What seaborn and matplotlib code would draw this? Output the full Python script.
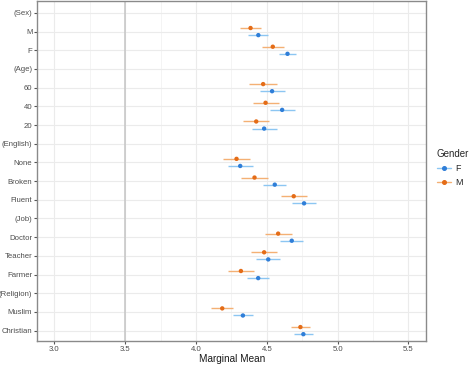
import matplotlib
matplotlib.use("Agg")
import matplotlib.pyplot as plt
from matplotlib.lines import Line2D
from matplotlib.ticker import MultipleLocator
import seaborn as sns
import numpy as np
import pandas as pd

categories = ["(Sex)", "M", "F", "(Age)", "60", "40", "20", "(English)", "None",
              "Broken", "Fluent", "(Job)", "Doctor", "Teacher", "Farmer",
              "(Religion)", "Muslim", "Christian"]

# attribute levels with estimates (header rows carry no data)
levels = ["M", "F", "60", "40", "20", "None", "Broken", "Fluent",
          "Doctor", "Teacher", "Farmer", "Muslim", "Christian"]
mean_F = [4.44, 4.646, 4.537, 4.608, 4.481, 4.312, 4.556, 4.763,
          4.676, 4.51, 4.439, 4.331, 4.758]
half_F = [0.070, 0.063, 0.088, 0.088, 0.089, 0.088, 0.082, 0.085,
          0.082, 0.085, 0.078, 0.070, 0.066]
mean_M = [4.385, 4.542, 4.474, 4.491, 4.425, 4.286, 4.413, 4.69,
          4.58, 4.481, 4.317, 4.185, 4.737]
half_M = [0.076, 0.078, 0.098, 0.092, 0.092, 0.098, 0.096, 0.092,
          0.096, 0.094, 0.094, 0.078, 0.068]
genders = ["F", "M"]
ref_value = 3.5
x_ticks = [3.0, 3.5, 4.0, 4.5, 5.0, 5.5]

df = pd.DataFrame({
    "level": levels * 2,
    "mean": mean_F + mean_M,
    "half": half_F + half_M,
    "Gender": ["F"] * len(levels) + ["M"] * len(levels),
})

sns.set_theme(style="white")
plt.rcParams["font.family"] = ["Liberation Sans", "DejaVu Sans"]

point_col = {"F": "#2f7ed8", "M": "#e46c17"}
line_col = {"F": "#8cc6f2", "M": "#f4b074"}
dodge = {"F": 0.19, "M": -0.19}

fig = plt.figure(figsize=(4.74, 3.65), dpi=100)
ax = fig.add_axes([0.079, 0.066, 0.820, 0.932])

pos = {c: i for i, c in enumerate(categories)}
df["y"] = df["level"].map(pos) + df["Gender"].map(dodge)

ax.axvline(ref_value, color="#c4c4c4", lw=1.1, zorder=1)

for g in genders:
    sub = df[df["Gender"] == g]
    ax.errorbar(sub["mean"], sub["y"], xerr=sub["half"], fmt="none",
                ecolor=line_col[g], elinewidth=1.0, capsize=0, zorder=2)
sns.scatterplot(data=df, x="mean", y="y", hue="Gender", hue_order=genders,
                palette=point_col, s=10, linewidth=0, ax=ax, legend=False,
                zorder=3)

ax.set_ylim(len(categories) - 0.45, -0.65)
ax.set_yticks(range(len(categories)))
ax.set_yticklabels(categories)
ax.set_xlim(2.88, 5.625)
ax.set_xticks(x_ticks)
ax.set_xticklabels([f"{v:.1f}" for v in x_ticks])
ax.xaxis.set_minor_locator(MultipleLocator(0.25))

ax.grid(True, which="major", color="#ebebeb", lw=0.8)
ax.grid(True, which="minor", axis="x", color="#f3f3f3", lw=0.6)
ax.set_axisbelow(True)

for s in ax.spines.values():
    s.set_color("#8a8a8a")
    s.set_linewidth(1.0)

ax.tick_params(axis="both", which="major", length=2.5, width=0.8,
               color="#555555", labelsize=5.6, labelcolor="#4d4d4d", pad=1.2,
               left=True, bottom=True)
ax.tick_params(axis="x", which="minor", length=0)
ax.set_xlabel("Marginal Mean", fontsize=7.2, color="#1a1a1a", labelpad=1.0)
ax.set_ylabel("")

handles = [Line2D([0], [0], color=line_col[g], lw=1.0, marker="o",
                  markersize=2.6, markerfacecolor=point_col[g],
                  markeredgecolor=point_col[g]) for g in genders]
leg = fig.legend(handles, genders, title="Gender", loc="upper left",
                 bbox_to_anchor=(0.905, 0.615), frameon=False, fontsize=6.4,
                 title_fontsize=7.0, handlelength=1.6, handletextpad=0.5,
                 labelspacing=0.6)
leg._legend_box.align = "left"

fig.savefig("out.png", dpi=100)
